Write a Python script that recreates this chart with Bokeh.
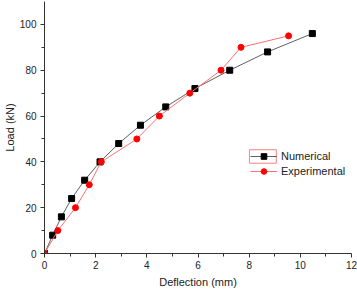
from bokeh.plotting import figure
from bokeh.models import Legend, LegendItem, Range1d, BoxAnnotation, FixedTicker
from bokeh.embed import file_html
from bokeh.resources import INLINE

num_x = [0, 0.32, 0.66, 1.06, 1.57, 2.17, 2.9, 3.75, 4.74, 5.88, 7.24, 8.72, 10.47]
num_y = [0, 8, 16, 24, 32, 40, 48, 56, 64, 72, 80, 88, 96]
exp_x = [0, 0.52, 1.21, 1.75, 2.22, 3.61, 4.49, 5.68, 6.9, 7.68, 9.54]
exp_y = [0, 10, 20, 30, 40, 50, 60, 70, 80, 90, 95]
x_ticks = [0, 2, 4, 6, 8, 10, 12]
x_minor = [1, 3, 5, 7, 9, 11]
y_ticks = [0, 20, 40, 60, 80, 100]
y_minor = [10, 30, 50, 70, 90]

FONT = "Liberation Sans"

p = figure(width=357, height=290, output_backend="svg", toolbar_location=None,
           x_range=Range1d(0, 12), y_range=Range1d(0, 110),
           min_border_left=42, min_border_right=6, min_border_top=1, min_border_bottom=0)
p.outline_line_color = None
p.xgrid.visible = False
p.ygrid.visible = False

r1 = p.line(num_x, num_y, line_color="#606060", line_width=1)
r1m = p.scatter(num_x, num_y, marker="square", size=6, fill_color="black", line_color="black")
r2 = p.line(exp_x, exp_y, line_color="#ff7070", line_width=1)
r2m = p.scatter(exp_x, exp_y, marker="circle", size=6, fill_color="red", line_color="red")

for ax in (p.xaxis[0], p.yaxis[0]):
    ax.axis_line_color = "#333333"
    ax.major_tick_line_color = "#333333"
    ax.minor_tick_line_color = "#333333"
    ax.major_tick_out = 4
    ax.major_tick_in = 0
    ax.minor_tick_out = 3
    ax.minor_tick_in = 0
    ax.major_label_text_font = FONT
    ax.major_label_text_font_size = "10px"
    ax.major_label_text_color = "#222222"
    ax.major_label_text_line_height = 1.0
    ax.axis_label_text_font = FONT
    ax.axis_label_text_font_size = "11px"
    ax.axis_label_text_font_style = "normal"
    ax.axis_label_text_color = "#222222"
    ax.axis_label_text_line_height = 1.0

p.xaxis.major_label_standoff = 3
p.xaxis.axis_label_standoff = 4
p.yaxis.major_label_standoff = 4
p.yaxis.axis_label_standoff = 1

p.xaxis.ticker = FixedTicker(ticks=x_ticks, minor_ticks=x_minor)
p.yaxis.ticker = FixedTicker(ticks=y_ticks, minor_ticks=y_minor)
p.xaxis.axis_label = "Deflection (mm)"
p.yaxis.axis_label = "Load (kN)"

legend = Legend(items=[LegendItem(label="Numerical", renderers=[r1, r1m]),
                       LegendItem(label="Experimental", renderers=[r2, r2m])],
                location=(206, 75), padding=0, margin=0, spacing=1,
                glyph_width=27, glyph_height=14, label_standoff=4,
                label_text_font=FONT, label_text_font_size="11px",
                label_text_color="#222222", label_height=14,
                border_line_color=None, background_fill_alpha=0)
p.add_layout(legend)

p.add_layout(BoxAnnotation(left=8.01, right=9.06, bottom=39.4, top=45.3,
                           fill_alpha=0, line_color="#ff8080", line_alpha=1.0,
                           line_width=1, level="overlay"))

open("out.html", "w").write(file_html(p, INLINE))
